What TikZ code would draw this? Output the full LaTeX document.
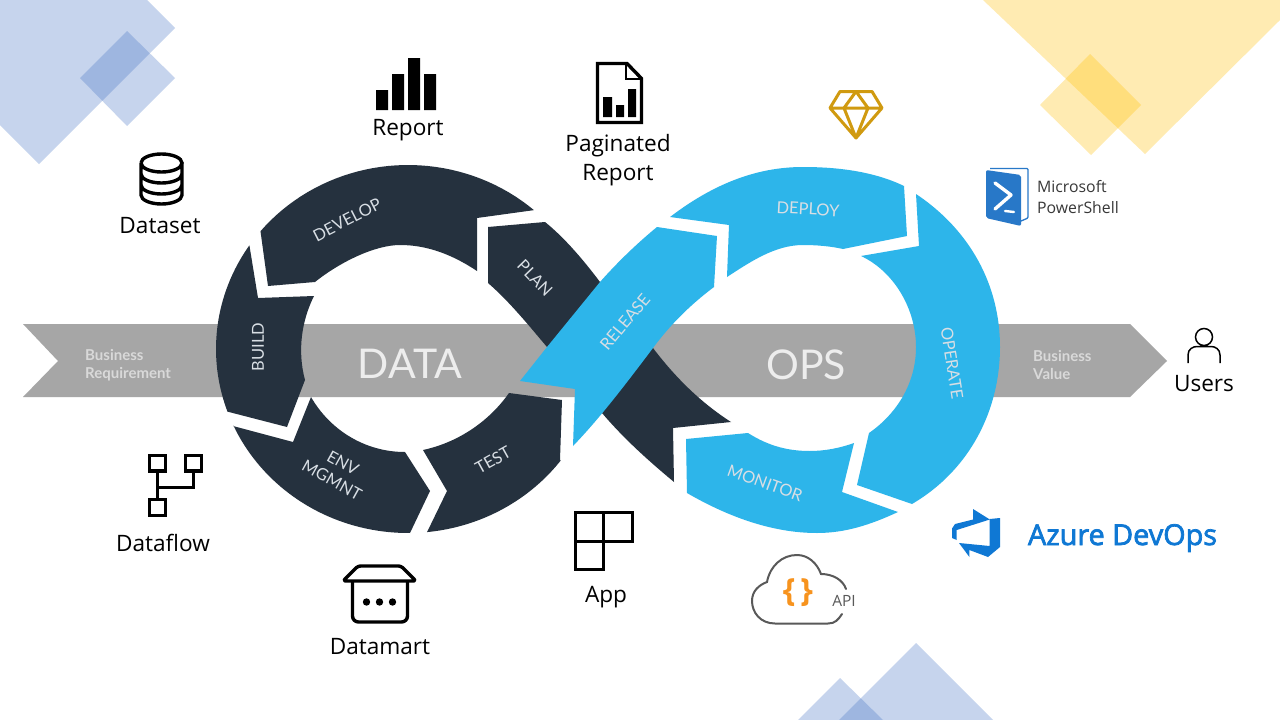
\documentclass[tikz,border=0pt]{standalone}
\usepackage{fontspec}
\setmainfont{Open Sans}
\newfontfamily\latof{Lato}
\newfontfamily\azfont[FakeBold=2.5]{Open Sans}
\definecolor{darkseg}{HTML}{25313E}
\definecolor{blueseg}{HTML}{2DB5EA}
\definecolor{bandgray}{HTML}{A6A6A6}
\definecolor{decoblue}{HTML}{4472C4}
\definecolor{decoyel}{HTML}{FFC000}
\definecolor{segtext}{HTML}{D8DEE4}
\definecolor{gemcol}{HTML}{D09A10}
\definecolor{psblue}{HTML}{2878C8}
\definecolor{azblue}{HTML}{0F78D4}
\definecolor{cloudgray}{HTML}{595959}
\definecolor{braceor}{HTML}{F7931E}
\tikzset{
  decob/.style={fill=decoblue,fill opacity=.3},
  decoy/.style={fill=decoyel,fill opacity=.3},
  segd/.style={fill=darkseg},
  segb/.style={fill=blueseg},
  seglabel/.style={text=segtext,font=\latof\fontsize{16.5}{18}\selectfont,inner sep=0pt,align=center},
  biglabel/.style={text=white!93!black,font=\latof\fontsize{41}{44}\selectfont,inner sep=0pt},
  bandlabel/.style={text=white!85!black,font=\latof\bfseries\fontsize{15}{18}\selectfont,inner sep=0pt,align=left,anchor=west},
  iconlabel/.style={text=black,font=\fontsize{22.6}{29.5}\selectfont,inner sep=0pt,align=center},
  baselabel/.style={iconlabel,anchor=base},
  iconline/.style={draw=black,line width=3.4pt,fill=none},
}
\begin{document}
\begin{tikzpicture}[x=1pt,y=-1pt]
\useasboundingbox (0,0) rectangle (1280,720);
\fill[white] (0,0) rectangle (1280,720);
\clip (0,0) rectangle (1280,720);
% corner decoration
\fill[decob] (147,0) -- (175,28) -- (39,164) -- (0,125) -- (0,0) -- cycle;
\fill[decob] (127,31) -- (175,78) -- (127,126) -- (80,78) -- cycle;
\fill[decoy] (983,0) -- (1145,154) -- (1280,20) -- (1280,0) -- cycle;
\fill[decoy] (1090,54) -- (1141,105) -- (1091,155) -- (1040,105) -- cycle;
\fill[decob] (916,643) -- (993,720) -- (839,720) -- cycle;
\fill[decob] (840,678) -- (883,720) -- (798,720) -- cycle;
% band
\fill[bandgray] (23,324) -- (1130,324) -- (1167,361) -- (1130,397) -- (23,397) -- (58,361) -- cycle;
% dark loop
\fill[segd] plot[domain=219.8:311,samples=40,variable=\t] ({408+192*cos(\t)},{349+184*sin(\t)})
  -- (477,218) -- (477,271)
  .. controls (450,253) and (425,245) .. (400,245)
  .. controls (375,245) and (340,262) .. (315,282)
  -- (268,286) -- cycle;
\fill[segd] plot[domain=214.3:160.1,samples=40,variable=\t] ({408+192*cos(\t)},{349+184*sin(\t)})
  -- (287,427) -- (305,380)
  .. controls (297,350) and (302,320) .. (314,296)
  -- (258,298) -- cycle;
\fill[segd] (233,426) -- (293,442) -- (311,397)
  .. controls (330,430) and (365,452) .. (405,452)
  -- (430,491) -- (410,533)
  -- plot[domain=89.4:155.4,samples=40,variable=\t] ({408+192*cos(\t)},{349+184*sin(\t)}) -- cycle;
\fill[segd] (423,450) .. controls (460,442) and (490,420) .. (509,393)
  -- (562,400) -- (560,460)
  -- plot[domain=37.3:84.3,samples=40,variable=\t] ({408+192*cos(\t)},{349+184*sin(\t)})
  -- (447,491) -- cycle;
\fill[segd] (488,227) -- (545,222)
  .. controls (565,238) and (585,262) .. (600,282)
  -- (653,348)
  .. controls (675,377) and (700,402) .. (731,422)
  -- (673,428) -- (674,482)
  .. controls (650,462) and (625,440) .. (602,413)
  -- (547,347)
  .. controls (530,327) and (510,302) .. (488,283) -- cycle;
% blue loop
\fill[segb] (520,381) -- (575,389) -- (573,446)
  .. controls (600,418) and (625,385) .. (653,348)
  .. controls (670,325) and (690,305) .. (714,287)
  -- (717,236) -- (657,227)
  .. controls (635,245) and (615,265) .. (600,282)
  -- (547,347) -- cycle;
\fill[segb] (670,217) .. controls (712,185) and (755,167) .. (803,167)
  .. controls (840,167) and (875,172) .. (904,186)
  -- (907,236) -- (843,249)
  .. controls (830,246) and (815,245) .. (803,245)
  .. controls (775,245) and (750,262) .. (727,277)
  -- (729,225) -- cycle;
\fill[segb] (916,194) .. controls (970,230) and (1000,285) .. (1000,347)
  .. controls (1000,410) and (970,470) .. (912,504)
  -- (857,485) -- (869,433)
  .. controls (895,415) and (916,385) .. (916,347)
  .. controls (916,310) and (895,272) .. (861,256)
  -- (919,246) -- cycle;
\fill[segb] (686,439) -- (748,433)
  .. controls (770,447) and (790,451) .. (810,451)
  .. controls (825,451) and (840,448) .. (854,443)
  -- (842,492) -- (898,512)
  .. controls (870,525) and (845,533) .. (817,533)
  .. controls (770,533) and (725,515) .. (687,493) -- cycle;
% segment labels
\node[seglabel,rotate=27] (develop) at (347,220) {DEVELOP};
\node[seglabel,rotate=90] (build) at (258,347) {BUILD};
\node[seglabel,rotate=-46] (plan) at (535,278) {PLAN};
\node[seglabel,rotate=-29] (env) at (343,463) {ENV};
\node[seglabel,rotate=-29] (mgmnt) at (332,480) {MGMNT};
\node[seglabel,rotate=29] (test) at (493,460) {TEST};
\node[seglabel,rotate=50] (release) at (625,322) {RELEASE};
\node[seglabel,rotate=-3] (deploy) at (808,209) {DEPLOY};
\node[seglabel,rotate=-81] (operate) at (952,363) {OPERATE};
\node[seglabel,rotate=-20] (monitor) at (765,483) {MONITOR};
\node[biglabel] (data) at (410,364) {DATA};
\node[biglabel] (ops) at (806,365) {OPS};
\node[bandlabel] (breq) at (85,365) {Business\\Requirement};
\node[bandlabel] (bval) at (1033,365) {Business\\Value};
% Report
\fill[black] (376,90) rectangle (388,110) (392,74) rectangle (404,110) (408,58) rectangle (420,110) (424,74) rectangle (436,110);
\node[baselabel] (report) at (408,135) {Report};
% Dataset
\draw[iconline] (141,163) arc[start angle=180,end angle=-180,x radius=20.5,y radius=9]
  (141,163) -- (141,195) arc[start angle=180,end angle=0,x radius=20.5,y radius=9] -- (182,163)
  (141,174) arc[start angle=180,end angle=0,x radius=20.5,y radius=9]
  (141,185) arc[start angle=180,end angle=0,x radius=20.5,y radius=9];
\node[baselabel] (dataset) at (160,233) {Dataset};
% Dataflow
\draw[iconline] (149.5,455.5) rectangle (165.5,471)
  (185.5,455.5) rectangle (201.5,471)
  (149.5,499.5) rectangle (165.5,515.5)
  (157.5,471) -- (157.5,499.5)
  (157.5,487.5) -- (193.5,487.5) -- (193.5,471);
\node[baselabel] (dataflow) at (163,551) {Dataflow};
% Datamart
\draw[iconline,rounded corners=2.5pt,line join=round] (358,566) -- (401,566) -- (416,581) -- (343,581) -- cycle;
\draw[iconline,rounded corners=6pt] (352.5,581) -- (352.5,622) -- (407.5,622) -- (407.5,581);
\fill[black] (366.5,602) circle[radius=3.7] (379.5,602) circle[radius=3.7] (392.5,602) circle[radius=3.7];
\node[baselabel] (datamart) at (380,654) {Datamart};
% Paginated Report
\draw[iconline,miter limit=10] (597.5,63.5) -- (627,63.5) -- (641.5,78.5) -- (641.5,122.5) -- (597.5,122.5) -- cycle;
\draw[black,line width=2pt] (626,65) -- (626,78.5) -- (640,78.5);
\fill[black] (603,97) rectangle (612,117) (616,105) rectangle (624,117) (628,89) rectangle (636,117);
\node[iconlabel] (pagrep) at (618,160) {Paginated\\Report};
% Gem
\draw[gemcol,line width=3pt,line join=round] (840,91.5) -- (872,91.5) -- (882,108) -- (856,138) -- (830,108) -- cycle
  (830,108) -- (882,108) (856,91.5) -- (844,108) -- (856,138) -- (868,108) -- cycle;
% PowerShell
\draw[psblue,line width=1.3pt,rounded corners=1pt] (990,168.5) -- (1028,168.5) -- (1028,218) -- (1021,221);
\fill[psblue,rounded corners=2pt] (986,170) -- (1021,175) -- (1021,226) -- (986,218) -- cycle;
\draw[white,line width=3.4pt,line cap=round,line join=round] (995,183) -- (1011,195) -- (995,209);
\draw[white,line width=2.4pt,line cap=round] (1005,211) -- (1014,212);
\node[inner sep=0pt,anchor=west,align=left,text=black!78,font=\fontsize{15.8}{21}\selectfont] (pstext) at (1037,197.5) {Microsoft\\PowerShell};
% Azure DevOps
\fill[azblue] (1000,518) -- (1000,547) -- (988,557) -- (969.4,550) -- (969.4,557) -- (959,543) -- (989.6,546) -- (989.6,519) -- cycle;
\fill[azblue] (989.8,519.5) -- (973,509) -- (973,519.5) -- (955,524) -- (952,528.5) -- (952,538) -- (956.7,540) -- (956.7,530) -- cycle;
\node[inner sep=0pt,text=azblue,anchor=base,font=\azfont\fontsize{28.8}{32}\selectfont] (azure) at (1122.5,545) {Azure DevOps};
% Cloud API
\draw[cloudgray,line width=2pt,line cap=round] (842,614) .. controls (838,620) and (835,623.5) .. (828,623.5)
  -- (775,623.5) .. controls (760,623.5) and (752,612) .. (752,601)
  .. controls (752,591) and (759,585) .. (767,582)
  .. controls (770,566) and (782,555) .. (797,555)
  .. controls (808,555) and (817,563) .. (821,574)
  .. controls (833,574) and (843,580) .. (846,589);
\node[inner sep=0pt,text=braceor,font=\bfseries\fontsize{32}{34}\selectfont] (braces) at (798,593) {\{\hspace{5pt}\}};
\node[inner sep=0pt,text=cloudgray,font=\fontsize{15.5}{17}\selectfont] (api) at (844,601) {API};
% App
\draw[black,line width=3.3pt] (575.5,512.5) rectangle (603.5,541.5) (603.5,512.5) rectangle (632.5,541.5) (575.5,541.5) rectangle (603.5,569.5);
\node[baselabel] (app) at (606,602) {App};
% Users
\draw[black,line width=1.5pt] (1204,337) circle[radius=8.5]
  (1188,363) -- (1188,355) .. controls (1188,349) and (1193,346.5) .. (1197,346.5) -- (1211,346.5) .. controls (1215,346.5) and (1220,349) .. (1220,355) -- (1220,363);
\node[baselabel] (users) at (1204,391) {Users};
\end{tikzpicture}
\end{document}
